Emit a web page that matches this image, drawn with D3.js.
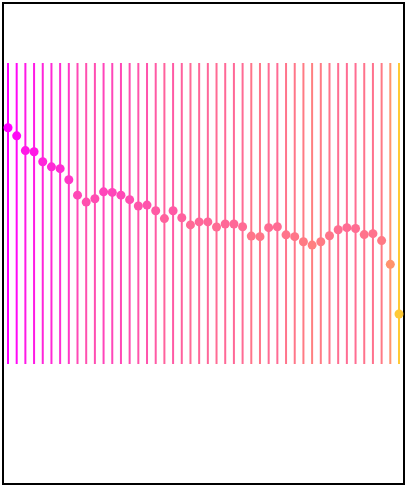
<!DOCTYPE html>
<html>
<head>
<meta charset="utf-8">
<script src="https://cdn.jsdelivr.net/npm/d3@7"></script>
<style>
html, body { margin: 0; padding: 0; background: #fff; }
svg { display: block; }
</style>
</head>
<body>
<svg id="chart" width="408" height="487"></svg>
<script>
const categories = d3.range(1, 47);
const values = [78.5, 75.8, 70.9, 70.5, 67.2, 65.5, 64.9, 61.2, 56.1, 53.8,
  54.9, 57.2, 57.0, 56.1, 54.6, 52.5, 52.8, 50.9, 48.3, 50.9,
  48.6, 46.2, 47.2, 47.2, 45.5, 46.5, 46.5, 45.6, 42.5, 42.3,
  45.3, 45.6, 42.9, 42.3, 40.6, 39.5, 40.6, 42.6, 44.6, 45.3,
  45.0, 43.0, 43.3, 41.0, 33.1, 16.6];
const yDomain = [0, 100];

const data = categories.map((c, i) => ({ c, v: values[i] }));
const svg = d3.select("#chart");

svg.append("rect")
  .attr("x", 3).attr("y", 3).attr("width", 401).attr("height", 481)
  .attr("fill", "none").attr("stroke", "#000").attr("stroke-width", 2);

const x = d3.scalePoint().domain(categories).range([8, 399]);
const y = d3.scaleLinear().domain(yDomain).range([364, 63]);
const color = d3.scaleSequential(d3.interpolateRgb("#ff00ff", "#ffff00"))
  .domain([d3.max(values), 0]);

svg.append("g").selectAll("line").data(data).join("line")
  .attr("x1", d => x(d.c)).attr("x2", d => x(d.c))
  .attr("y1", y(yDomain[0])).attr("y2", y(yDomain[1]))
  .attr("stroke", d => color(d.v)).attr("stroke-width", 2);

svg.append("g").selectAll("circle").data(data).join("circle")
  .attr("cx", d => x(d.c)).attr("cy", d => y(d.v))
  .attr("r", 4.5)
  .attr("fill", d => color(d.v));
</script>
</body>
</html>
